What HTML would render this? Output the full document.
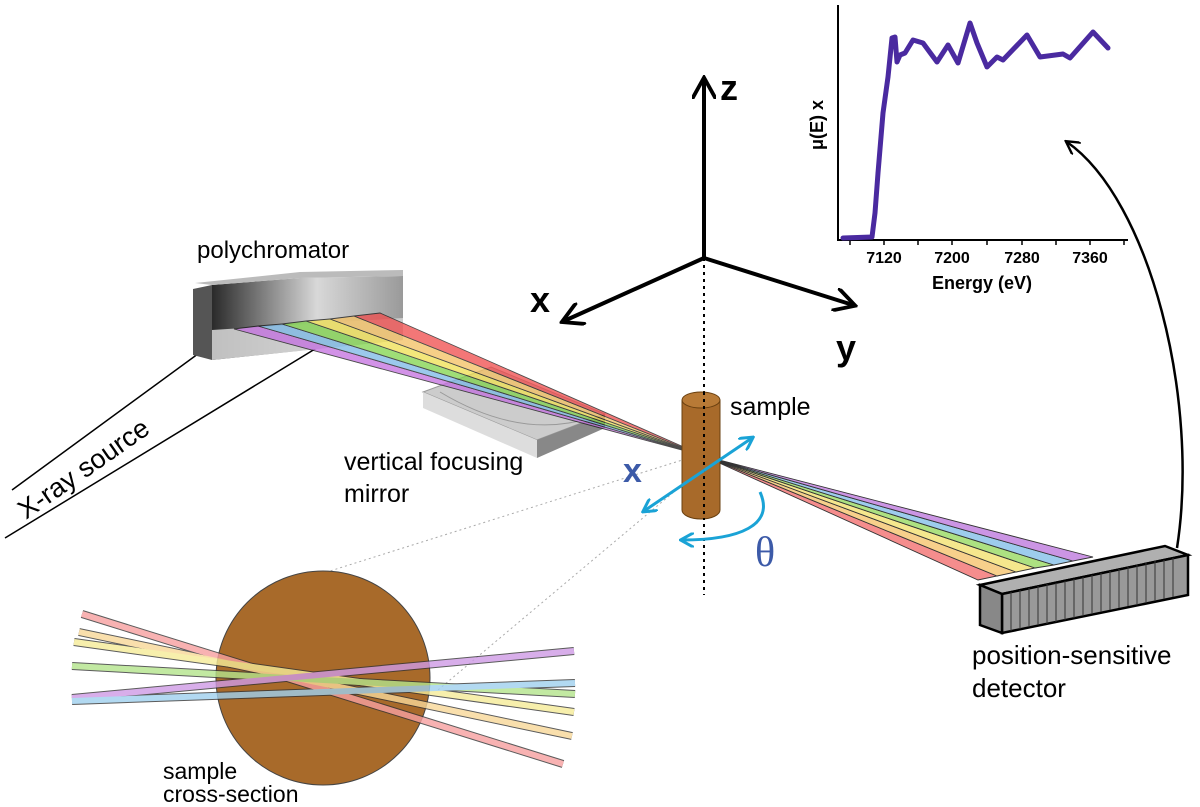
<!DOCTYPE html>
<html><head><meta charset="utf-8"><style>
html,body{margin:0;padding:0;background:#fff;}
svg{display:block;font-family:"Liberation Sans",Arial,sans-serif;}
</style></head><body>
<svg width="1200" height="807" viewBox="0 0 1200 807" xmlns="http://www.w3.org/2000/svg">
<defs>
<linearGradient id="pg" x1="0" x2="1" y1="0" y2="0">
<stop offset="0" stop-color="#2a2a2a"/><stop offset="0.55" stop-color="#d8d8d8"/><stop offset="1" stop-color="#9a9a9a"/>
</linearGradient>
<marker id="ah" viewBox="0 0 10 10" refX="8" refY="5" markerWidth="6" markerHeight="6" orient="auto-start-reverse"><path d="M0,0 L9,5 L0,10" fill="none" stroke="#000" stroke-width="1.6"/></marker>
<marker id="ahc" viewBox="0 0 10 10" refX="8" refY="5" markerWidth="5" markerHeight="5" orient="auto-start-reverse"><path d="M0,0 L9,5 L0,10" fill="none" stroke="#1aa3d6" stroke-width="2"/></marker>
</defs>

<!-- X-ray source lines -->
<line x1="12" y1="490" x2="232" y2="329" stroke="#000" stroke-width="1.5"/>
<line x1="5" y1="538" x2="374" y2="313" stroke="#000" stroke-width="1.5"/>
<text x="26" y="520" font-size="27" transform="rotate(-35 26 520)">X-ray source</text>

<!-- polychromator -->
<polygon points="193,289 212,285 212,360 193,355" fill="#555"/>
<polygon points="212,285 300,278 403,276 403,340 212,360" fill="url(#pg)"/>
<polygon points="212,330 403,318 403,340 212,360" fill="#d0d0d0" opacity="0.9"/>
<polygon points="212,285 300,278 403,276 403,270 300,272 195,283" fill="#bbb"/>
<text x="197" y="258" font-size="24">polychromator</text>

<!-- mirror -->
<polygon points="423,392 491,367 605,414 537,440" fill="#ccc" stroke="#999"/>
<path d="M440,392 Q520,440 590,418" fill="none" stroke="#999"/>
<polygon points="537,440 605,414 605,428 537,458" fill="#888"/>
<polygon points="423,392 537,440 537,458 423,408" fill="#ddd"/>
<text x="344" y="470" font-size="25">vertical focusing</text>
<text x="344" y="502" font-size="25">mirror</text>

<!-- incoming beam -->
<g stroke="#111" stroke-width="0.9" opacity="0.75">
<polygon points="234,329 258,326 704,456" fill="#c36ee0"/>
<polygon points="258,326 282,324 704,456" fill="#7ab8e6"/>
<polygon points="282,324 306,321 704,456" fill="#7fd34a"/>
<polygon points="306,321 330,319 704,456" fill="#f0e050"/>
<polygon points="330,319 354,316 704,456" fill="#f4c060"/>
<polygon points="354,316 380,313 704,456" fill="#ef4a4a"/>
</g>
<!-- outgoing beam -->
<g stroke="#111" stroke-width="0.9" opacity="0.85">
<polygon points="704,456 978,580 997,576" fill="#f47a7a"/>
<polygon points="704,456 997,576 1016,572" fill="#f6c877"/>
<polygon points="704,456 1016,572 1035,568" fill="#f4e37a"/>
<polygon points="704,456 1035,568 1054,565" fill="#9fdc6c"/>
<polygon points="704,456 1054,565 1073,561" fill="#8cc4ea"/>
<polygon points="704,456 1073,561 1093,557" fill="#c383e0"/>
</g>

<!-- detector -->
<polygon points="980,585 1165,546 1188,555 1002,594" fill="#b0b0b0" stroke="#000" stroke-width="2.5"/>
<polygon points="1002,594 1188,555 1188,595 1002,633" fill="#999" stroke="#000" stroke-width="2.5"/>
<polygon points="980,585 1002,594 1002,633 980,625" fill="#888" stroke="#000" stroke-width="2.5"/>
<g stroke="#333" stroke-width="1">
<line x1="1011" y1="592" x2="1011" y2="631"/><line x1="1020" y1="590" x2="1020" y2="629"/><line x1="1029" y1="588" x2="1029" y2="627"/><line x1="1038" y1="586" x2="1038" y2="625"/><line x1="1047" y1="584" x2="1047" y2="624"/><line x1="1056" y1="583" x2="1056" y2="622"/><line x1="1065" y1="581" x2="1065" y2="620"/><line x1="1074" y1="579" x2="1074" y2="618"/><line x1="1083" y1="577" x2="1083" y2="616"/><line x1="1092" y1="575" x2="1092" y2="614"/><line x1="1101" y1="573" x2="1101" y2="612"/><line x1="1110" y1="571" x2="1110" y2="610"/><line x1="1119" y1="569" x2="1119" y2="608"/><line x1="1128" y1="567" x2="1128" y2="606"/><line x1="1137" y1="565" x2="1137" y2="605"/><line x1="1146" y1="563" x2="1146" y2="603"/><line x1="1155" y1="561" x2="1155" y2="601"/><line x1="1164" y1="560" x2="1164" y2="599"/><line x1="1173" y1="558" x2="1173" y2="597"/>
</g>
<text x="972" y="664" font-size="26">position-sensitive</text>
<text x="972" y="697" font-size="26">detector</text>

<!-- curved arrow -->
<path d="M1177,548 C1200,400 1150,200 1067,142" fill="none" stroke="#000" stroke-width="2.5" marker-end="url(#ah)"/>

<!-- axes -->
<line x1="704" y1="258" x2="704" y2="595" stroke="#000" stroke-width="2" stroke-dasharray="3,4"/>
<g stroke="#000" stroke-width="4" fill="none" marker-end="url(#ah)">
<line x1="704" y1="260" x2="704" y2="80"/>
<line x1="704" y1="258" x2="564" y2="321"/>
<line x1="704" y1="258" x2="853" y2="305"/>
</g>
<text x="720" y="100" font-size="36" font-weight="bold">z</text>
<text x="530" y="312" font-size="36" font-weight="bold">x</text>
<text x="836" y="360" font-size="36" font-weight="bold">y</text>

<!-- dotted lines to cross-section -->
<line x1="695" y1="456" x2="330" y2="571" stroke="#aaa" stroke-width="1" stroke-dasharray="2,3"/>
<line x1="700" y1="470" x2="438" y2="690" stroke="#aaa" stroke-width="1" stroke-dasharray="2,3"/>

<!-- sample cylinder -->
<path d="M682,400 L682,510 A19,9 0 0 0 720,510 L720,400 Z" fill="#a86a2a" stroke="#6a4010" stroke-width="1"/>
<ellipse cx="701" cy="400" rx="19" ry="8" fill="#b87a36" stroke="#6a4010" stroke-width="1"/>
<line x1="704" y1="392" x2="704" y2="520" stroke="#000" stroke-width="2" stroke-dasharray="3,4"/>
<text x="730" y="415" font-size="25">sample</text>

<!-- cyan motion arrows -->
<line x1="644" y1="511" x2="752" y2="438" stroke="#1aa3d6" stroke-width="3" marker-start="url(#ahc)" marker-end="url(#ahc)"/>
<path d="M760,492 C775,525 740,540 682,540" fill="none" stroke="#1aa3d6" stroke-width="3" marker-end="url(#ahc)"/>
<text x="623" y="482" font-size="34" font-weight="bold" fill="#3c5aa8">x</text>
<text x="755" y="566" font-size="42" font-family="Liberation Serif,serif" fill="#3c5aa8">θ</text>

<!-- cross-section -->
<circle cx="323" cy="678" r="107" fill="#a86a2a" stroke="#444" stroke-width="1"/>
<g opacity="0.8">
<g stroke="#333" stroke-width="8" stroke-linecap="butt">
<line x1="82" y1="614" x2="563" y2="764"/><line x1="79" y1="632" x2="572" y2="736"/><line x1="74" y1="642" x2="574" y2="712"/><line x1="72" y1="666" x2="575" y2="694"/><line x1="72" y1="698" x2="574" y2="651"/><line x1="72" y1="701" x2="575" y2="683"/>
</g>
<g stroke-width="6" stroke-linecap="butt">
<line x1="82" y1="614" x2="563" y2="764" stroke="#f7a0a0"/>
<line x1="79" y1="632" x2="572" y2="736" stroke="#f8d898"/>
<line x1="74" y1="642" x2="574" y2="712" stroke="#f6ec98"/>
<line x1="72" y1="666" x2="575" y2="694" stroke="#b4e48c"/>
<line x1="72" y1="698" x2="574" y2="651" stroke="#cf9ae6"/>
<line x1="72" y1="701" x2="575" y2="683" stroke="#9fd0ee"/>
</g>
</g>
<text x="163" y="779" font-size="23">sample</text>
<text x="163" y="802" font-size="23">cross-section</text>

<!-- chart -->
<line x1="838" y1="5" x2="838" y2="240" stroke="#000" stroke-width="2"/>
<line x1="837" y1="240" x2="1128" y2="240" stroke="#000" stroke-width="2"/>
<g stroke="#000" stroke-width="1.5">
<line x1="850" y1="240" x2="850" y2="245"/><line x1="884" y1="240" x2="884" y2="245"/><line x1="918" y1="240" x2="918" y2="245"/><line x1="952" y1="240" x2="952" y2="245"/><line x1="987" y1="240" x2="987" y2="245"/><line x1="1022" y1="240" x2="1022" y2="245"/><line x1="1056" y1="240" x2="1056" y2="245"/><line x1="1090" y1="240" x2="1090" y2="245"/><line x1="1124" y1="240" x2="1124" y2="245"/>
</g>
<g font-size="16" font-weight="bold" text-anchor="middle">
<text x="884" y="263">7120</text><text x="952" y="263">7200</text><text x="1022" y="263">7280</text><text x="1090" y="263">7360</text>
</g>
<text x="982" y="289" font-size="18" font-weight="bold" text-anchor="middle">Energy (eV)</text>
<text x="0" y="0" font-size="18" font-weight="bold" text-anchor="middle" transform="translate(823,125) rotate(-90)">μ(E) x</text>
<polyline fill="none" stroke="#4a2aa0" stroke-width="5" stroke-linejoin="round" stroke-linecap="round" points="843,238 872,237 875,213 878,173 883,113 888,77 892,38 895,37 897,62 900,55 905,53 913,40 923,43 937,62 948,45 958,63 970,23 977,43 987,67 997,57 1003,60 1027,35 1040,57 1063,54 1070,58 1093,32 1108,48"/>
</svg>
</body></html>
